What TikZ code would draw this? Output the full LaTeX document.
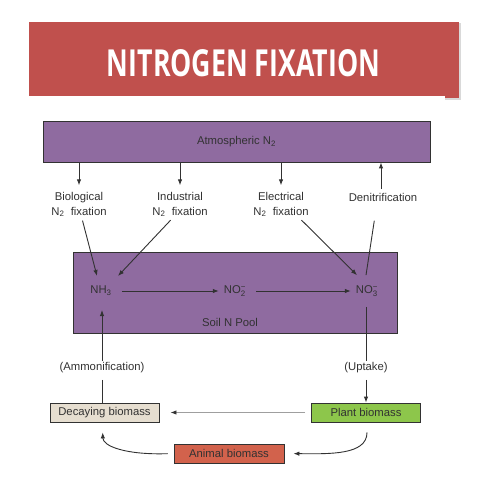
\documentclass[tikz,border=0pt]{standalone}
\usepackage{amsmath}
\usepackage{fontspec}
\setmainfont{Liberation Sans}
\newfontfamily\titlefont{Open Sans}
\usepackage{graphicx}
\usetikzlibrary{arrows.meta}
\definecolor{titlered}{RGB}{192,80,77}
\definecolor{poolpurple}{RGB}{143,107,160}
\definecolor{decaybg}{RGB}{230,222,208}
\definecolor{plantbg}{RGB}{141,198,75}
\definecolor{animalbg}{RGB}{210,98,76}
\definecolor{ink}{RGB}{50,50,50}
\newcommand\mysubsup[2]{$^{\text{#2}}_{\text{#1}}$}
\begin{document}
\begin{tikzpicture}[x=1bp,y=-1bp,
  every node/.style={text=ink,font=\fontsize{11.3bp}{15bp}\selectfont,inner sep=1.5bp},
  pool/.style={draw=ink,line width=0.9bp,fill=poolpurple,rectangle,inner sep=0pt},
  lbl/.style={align=center},
  chem/.style={inner ysep=10bp,inner xsep=2bp},
  biobox/.style={draw=ink,line width=0.9bp,rectangle,minimum width=109bp,minimum height=19bp,inner sep=0pt},
  arr/.style={draw=ink,line width=0.9bp,-{Latex[length=6bp,width=4.5bp,color=ink]}},
  ln/.style={draw=ink,line width=0.9bp}]
\useasboundingbox (0,0) rectangle (480,480);
\fill[white] (0,0) rectangle (480,480);
% banner
\fill[gray!30] (459,23) rectangle (461,100);
\fill[gray!30] (445,98) rectangle (461,100);
\fill[titlered] (29,22) rectangle (459,96);
\fill[titlered] (445,96) rectangle (459,98);
\node[text=white,inner sep=0pt] (title) at (243.5,63.5) {\resizebox{273bp}{27bp}{\titlefont\bfseries NITROGEN FIXATION}};
% atmosphere
\node[pool,minimum width=387bp,minimum height=41bp] (atm) at (236.5,141.5) {Atmospheric N\textsubscript{2}};
\node[lbl] (bio) at (79,204.5) {Biological\\N\textsubscript{2}\ \ fixation};
\node[lbl] (ind) at (180,204.5) {Industrial\\N\textsubscript{2}\ \ fixation};
\node[lbl] (ele) at (281,204.5) {Electrical\\N\textsubscript{2}\ \ fixation};
\node (den) at (383,197) {Denitrification};
\draw[arr,shorten >=5bp] (atm.south -| bio.north) -- (bio.north);
\draw[arr,shorten >=5bp] (atm.south -| ind.north) -- (ind.north);
\draw[arr,shorten >=5bp] (atm.south -| ele.north) -- (ele.north);
\draw[arr,shorten <=2bp] ([xshift=-2bp]den.north) -- ([xshift=-2bp]den.north |- atm.south);
% soil pool
\node[pool,minimum width=324bp,minimum height=81bp] (soil) at (235,292.5) {};
\node[chem] (nh3) at (101,291) {NH\textsubscript{3}};
\node[chem] (no2) at (235,291) {NO\mysubsup{2}{−}};
\node[chem] (no3) at (367,291) {NO\mysubsup{3}{−}};
\node (pool) at (230,322) {Soil N Pool};
\draw[arr,shorten <=2bp] ([xshift=3bp]bio.south) -- ([xshift=-4bp]nh3.north);
\draw[arr,shorten <=2bp] ([xshift=-8bp]ind.south) -- ([xshift=17bp]nh3.north);
\draw[arr,shorten <=2bp] ([xshift=19bp]ele.south) -- ([xshift=-10bp]no3.north);
\draw[ln,shorten >=18bp] ([xshift=-1bp]no3.north) -- ([xshift=-6bp]den.south);
\draw[arr,shorten <=8bp,shorten >=3bp] (nh3.east) -- (no2.west);
\draw[arr,shorten <=8bp,shorten >=3bp] (no2.east) -- (no3.west);
% lower cycle
\node (amm) at (102,368) {(Ammonification)};
\node (upt) at (366,368) {(Uptake)};
\node[biobox,fill=decaybg] (decay) at (104.5,412.5) {Decaying biomass};
\node[biobox,fill=plantbg] (plant) at (366,412.5) {Plant biomass};
\node[biobox,fill=animalbg,minimum width=110bp] (animal) at (229,453.5) {Animal biomass};
\draw[arr,shorten >=4bp] (amm.north) -- (amm.north |- nh3.south);
\draw[ln,shorten <=5bp] (amm.south) -- (amm.south |- decay.north);
\draw[ln] (upt.north |- no3.south) -- (upt.north);
\draw[arr,shorten <=5bp] (upt.south) -- (upt.south |- plant.north);
\draw[arr,draw=gray!75,shorten <=6bp,shorten >=11bp] (plant.west) -- (decay.east);
\draw[arr,shorten <=10bp,shorten >=9bp] ([xshift=1bp]plant.south) .. controls (367,455) and (330,454) .. (animal.east);
\draw[arr,shorten <=6bp,shorten >=10bp] (animal.west) .. controls (125,455) and (103,446) .. ([xshift=-2bp]decay.south);
\end{tikzpicture}
\end{document}
